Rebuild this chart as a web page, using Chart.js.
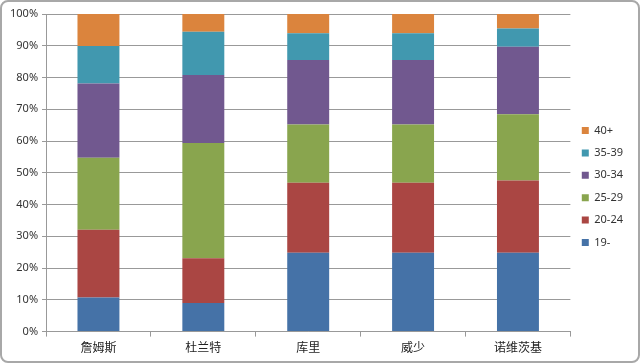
<!DOCTYPE html>
<html>
<head>
<meta charset="utf-8">
<script src="https://cdn.jsdelivr.net/npm/chart.js@4"></script>
<style>
  html, body { margin: 0; padding: 0; background: #fff; }
  #wrap {
    width: 640px; height: 363px; box-sizing: border-box;
    border: 2px solid #a8a8a8; border-radius: 8px; position: relative;
  }
</style>
</head>
<body>
<div id="wrap"><canvas id="age-chart"></canvas></div>
<script>
const players = ["詹姆斯", "杜兰特", "库里", "威少", "诺维茨基"];
const ageGroups = ["19-", "20-24", "25-29", "30-34", "35-39", "40+"];
const colors = ["#4572A7", "#AA4643", "#89A54E", "#71588F", "#4198AF", "#DB843D"];

// share of points scored per age bracket (%)
const age19 = [10.7, 9.0, 24.8, 24.8, 24.8];
const age20to24 = [21.4, 14.1, 22.1, 22.1, 22.8];
const age25to29 = [22.6, 36.3, 18.3, 18.3, 20.8];
const age30to34 = [23.4, 21.4, 20.3, 20.3, 21.3];
const age35to39 = [11.8, 13.6, 8.4, 8.4, 5.7];
const age40plus = [10.1, 5.6, 6.1, 6.1, 4.6];

const yTicks = [0, 10, 20, 30, 40, 50, 60, 70, 80, 90, 100];

const series = [age19, age20to24, age25to29, age30to34, age35to39, age40plus];

const ctx = document.getElementById("age-chart").getContext("2d");
new Chart(ctx, {
  type: "bar",
  data: {
    labels: players,
    datasets: series.map((vals, i) => ({
      label: ageGroups[i],
      data: vals,
      backgroundColor: colors[i],
      borderWidth: 0,
      barPercentage: 0.4,
      categoryPercentage: 1,
    })),
  },
  options: {
    responsive: true,
    maintainAspectRatio: false,
    animation: false,
    layout: { padding: { top: 12, right: 5, left: 4, bottom: 2 } },
    plugins: {
      tooltip: { enabled: false },
      legend: {
        position: "right",
        reverse: true,
        labels: {
          boxWidth: 7,
          boxHeight: 7,
          padding: 11.4,
          color: "#333",
          font: { family: "'Noto Sans', sans-serif", size: 11 },
        },
      },
    },
    scales: {
      x: {
        stacked: true,
        grid: {
          offset: true,
          drawOnChartArea: false,
          drawTicks: true,
          tickLength: 5,
          color: "#999",
        },
        border: { color: "#999" },
        ticks: {
          color: "#222",
          padding: 4,
          font: { family: "'Noto Sans CJK SC', sans-serif", size: 12 },
        },
      },
      y: {
        stacked: true,
        min: 0,
        max: 100,
        afterBuildTicks: (axis) => {
          axis.ticks = yTicks.map((v) => ({ value: v }));
        },
        grid: { color: "#999", tickLength: 4 },
        border: { color: "#999" },
        ticks: {
          color: "#333",
          padding: 4,
          font: { family: "'Noto Sans', sans-serif", size: 11 },
          callback: (v) => v + "%",
        },
      },
    },
  },
});
</script>
</body>
</html>
